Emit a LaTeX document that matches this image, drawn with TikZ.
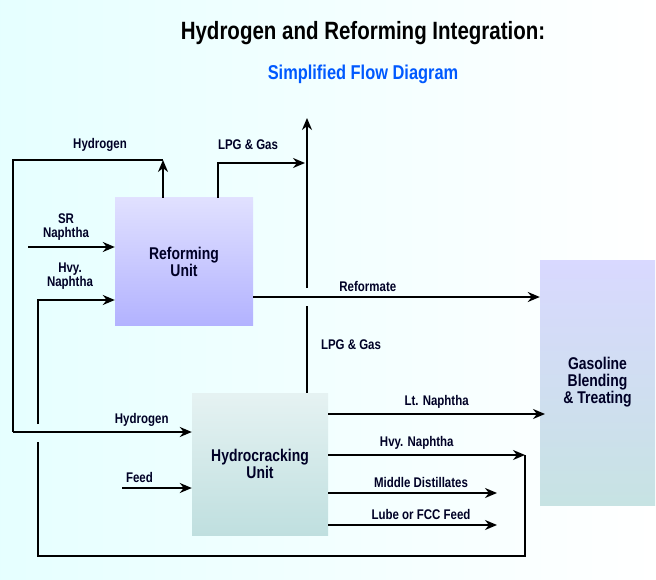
\documentclass[tikz,border=0pt]{standalone}
\usepackage{fontspec}
\setmainfont{Liberation Sans}[FakeStretch=0.82]
\usetikzlibrary{arrows.meta}
\begin{document}
\begin{tikzpicture}[x=1pt,y=-1pt,
  flow/.style={line width=2.8pt,-{Stealth[length=12pt,width=10pt]}},
  pipe/.style={line width=2.8pt},
  lbl/.style={font=\bfseries\fontsize{14}{14}\selectfont,align=center,inner sep=1pt,text=black!85!blue},
  unit/.style={font=\bfseries\fontsize{17}{17}\selectfont,align=center,text=black!85!blue}]
\useasboundingbox (0,0) rectangle (656,580);
\shade[left color=cyan!10!white,right color=white] (0,0) rectangle (656,580);
\node[font=\bfseries\fontsize{25}{26}\selectfont] (title) at (363,33) {Hydrogen and Reforming Integration:};
\node[font=\bfseries\fontsize{20}{22}\selectfont,text=blue!65!cyan] (sub) at (363,74) {Simplified Flow Diagram};
% units
\node[unit,minimum width=138pt,minimum height=127pt,
  top color=blue!12!white,bottom color=blue!30!white] (ref) at (184,261.5) {Reforming\\Unit};
\node[unit,minimum width=136pt,minimum height=142pt,
  top color=teal!10!white,bottom color=teal!25!white] (hc) at (260,464) {Hydrocracking\\Unit};
\node[unit,minimum width=115pt,minimum height=245pt,
  top color=blue!15!white,bottom color=teal!22!white] (gb) at (597.5,382.5) {Gasoline\\Blending\\\& Treating};
% coordinates
\coordinate (h1) at (163,160);
\coordinate (hl) at (13,160);
\coordinate (hb) at (13,432);
\coordinate (l1) at (218,163);
\coordinate (l2) at (305,163);
\coordinate (vtop) at (307,118);
\coordinate (vg1) at (307,288);
\coordinate (vg2) at (307,306);
\coordinate (sr) at (28,247);
\coordinate (hn) at (38,300);
\coordinate (hng1) at (38,424);
\coordinate (hng2) at (38,442);
\coordinate (bl) at (38,556);
\coordinate (br) at (525,556);
\coordinate (hnr) at (525,455);
\coordinate (fd) at (122,488);
\coordinate (md) at (497,493);
\coordinate (lu) at (497,525);
% reforming connectors
\draw[flow] (ref.north -| h1) -- (h1);
\draw[pipe] (h1) -- (hl) -- (hb);
\draw[flow] (hb) -- (hb -| hc.west) node[lbl,pos=0.72,above=3pt] {Hydrogen};
\node[lbl] at (100,145) {Hydrogen};
\draw[flow] (ref.north -| l1) -- (l1) -- (l2);
\node[lbl] at (248,145) {LPG \& Gas};
\draw[flow] (sr) -- (sr -| ref.west);
\node[lbl] at (66,227) {SR\\Naphtha};
\draw[flow] (hng1) -- (hn) -- (hn -| ref.west);
\node[lbl] at (70,276) {Hvy.\\Naphtha};
\draw[flow] (ref.east |- 0,297) -- (gb.west |- 0,297) node[lbl,pos=0.4,above=3pt] {Reformate};
% LPG from hydrocracker
\draw[pipe] (hc.north -| vg2) -- (vg2);
\draw[flow] (vg1) -- (vtop);
\node[lbl] at (351,345) {LPG \& Gas};
% hydrocracker
\draw[flow] (fd) -- (fd -| hc.west) node[lbl,pos=0.25,above=3pt] {Feed};
\draw[flow] (hc.east |- 0,414) -- (545,414) node[lbl,midway,above=3pt] {Lt. Naphtha};
\draw[flow] (hc.east |- 0,455) -- (hnr) node[lbl,pos=0.45,above=3pt] {Hvy. Naphtha};
\draw[pipe] (hnr) -- (br) -- (bl) -- (hng2);
\draw[flow] (hc.east |- md) -- (md) node[lbl,pos=0.55,above=3pt] {Middle Distillates};
\draw[flow] (hc.east |- lu) -- (lu) node[lbl,pos=0.55,above=3pt] {Lube or FCC Feed};
\end{tikzpicture}
\end{document}
